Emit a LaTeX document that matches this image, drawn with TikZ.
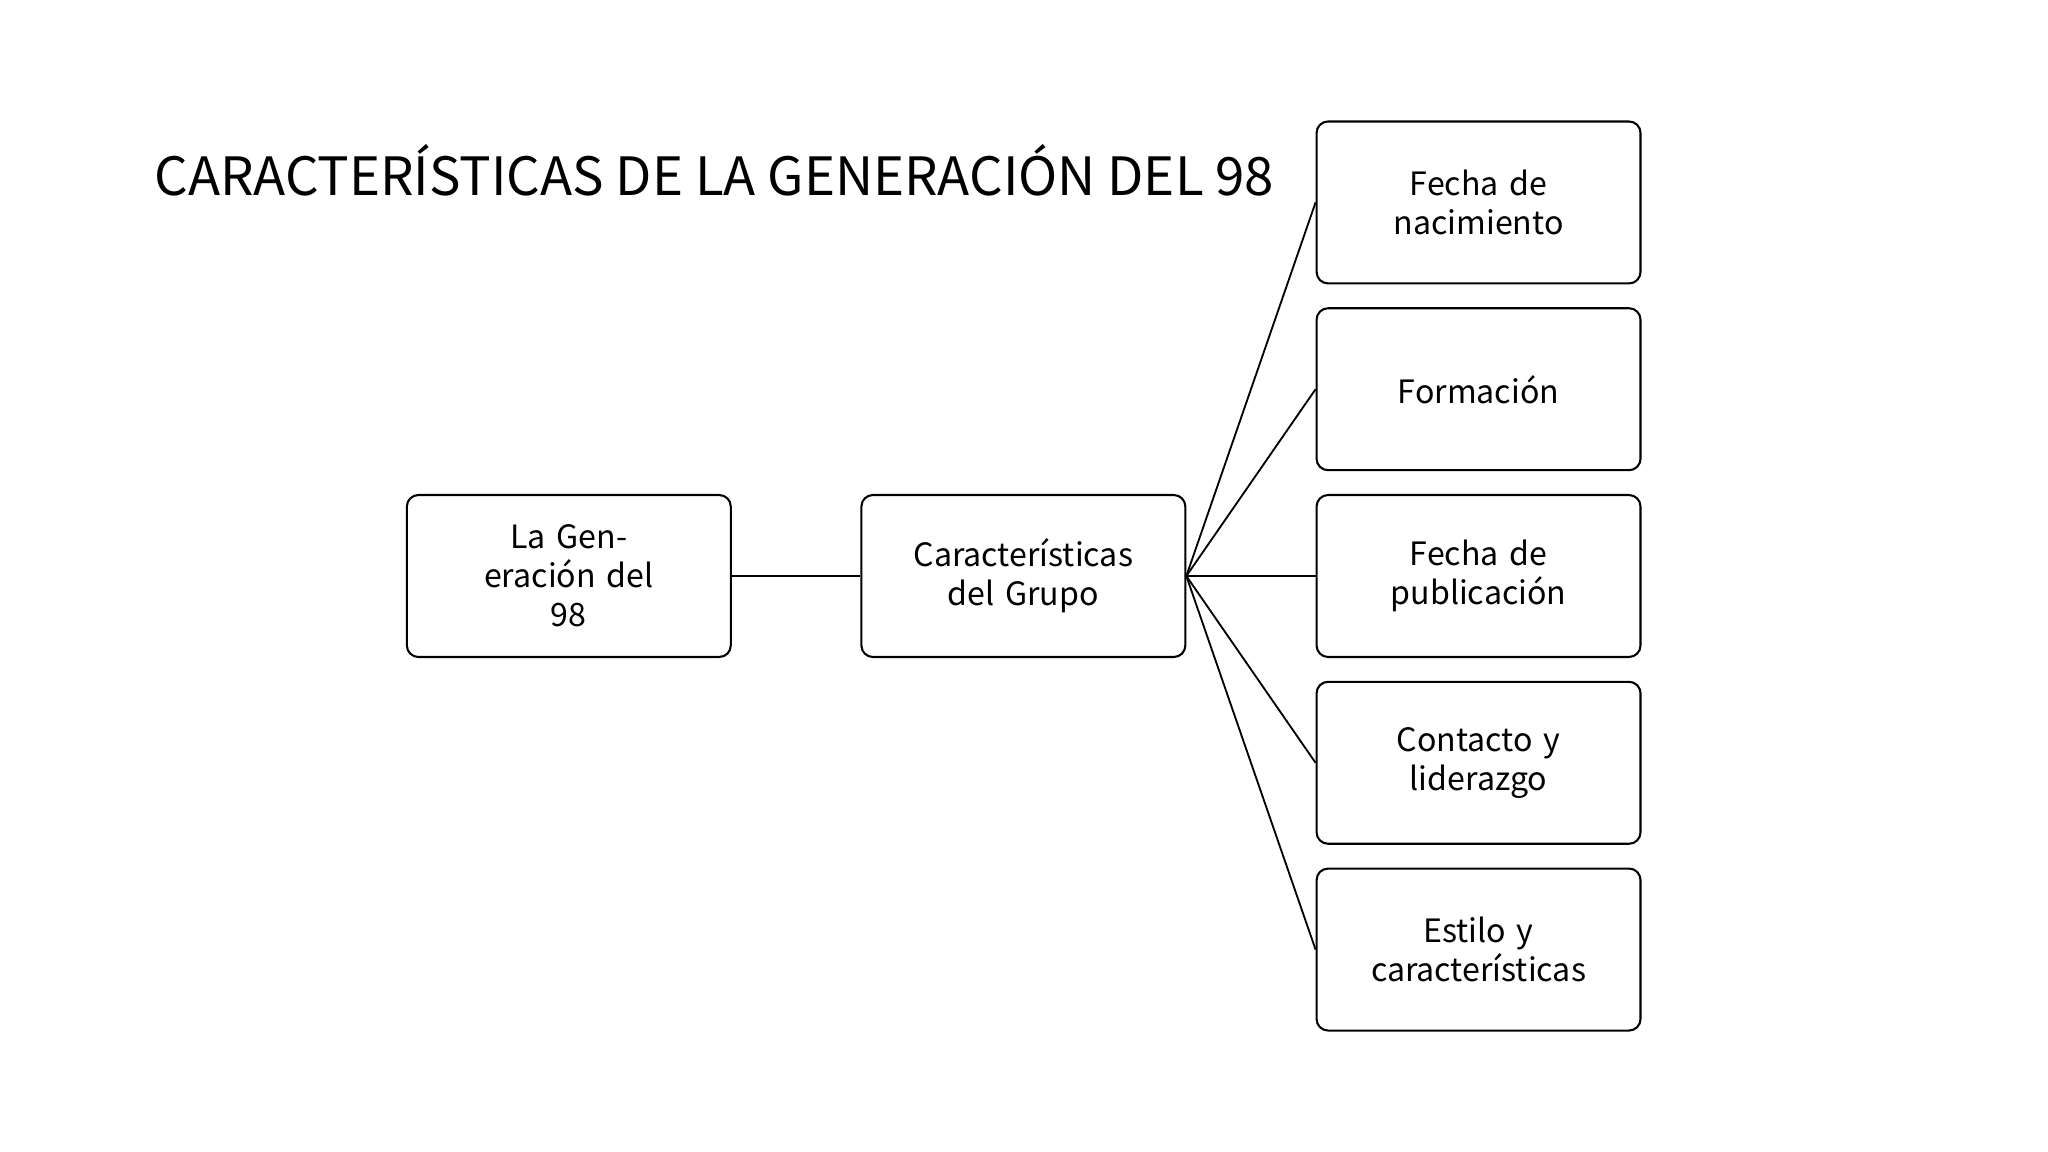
\documentclass[tikz,border=0pt]{standalone}
\usepackage{fontspec}
\setmainfont{Noto Sans CJK SC}
\begin{document}
\begin{tikzpicture}[x=0.02cm,y=-0.02cm,
  bx/.style={draw,rounded corners=5pt,line width=0.9pt,minimum width=248*0.02cm,minimum height=124*0.02cm,align=center,text width=200*0.02cm,font=\fontsize{14}{17}\selectfont,inner sep=0pt},
  ln/.style={line width=0.8pt}]
\useasboundingbox (0,0) rectangle (1568,882);
\node[anchor=west,font=\fontsize{23}{26}\selectfont,inner sep=0pt] (t) at (118,130) {CARACTERÍSTICAS DE LA GENERACIÓN DEL 98};
\node[bx] (g) at (435.5,441) {La Generación del\\98};
\node[bx] (c) at (783.5,441) {Características\\del Grupo};
\node[bx] (r1) at (1132,155) {Fecha de\\nacimiento};
\node[bx] (r2) at (1132,298) {Formación};
\node[bx] (r3) at (1132,441) {Fecha de\\publicación};
\node[bx] (r4) at (1132,584) {Contacto y\\liderazgo};
\node[bx] (r5) at (1132,727) {Estilo y\\características};
\draw[ln] (g.east) -- (c.west);
\foreach \r in {r1,r2,r3,r4,r5} \draw[ln] (c.east) -- (\r.west);
\end{tikzpicture}
\end{document}
